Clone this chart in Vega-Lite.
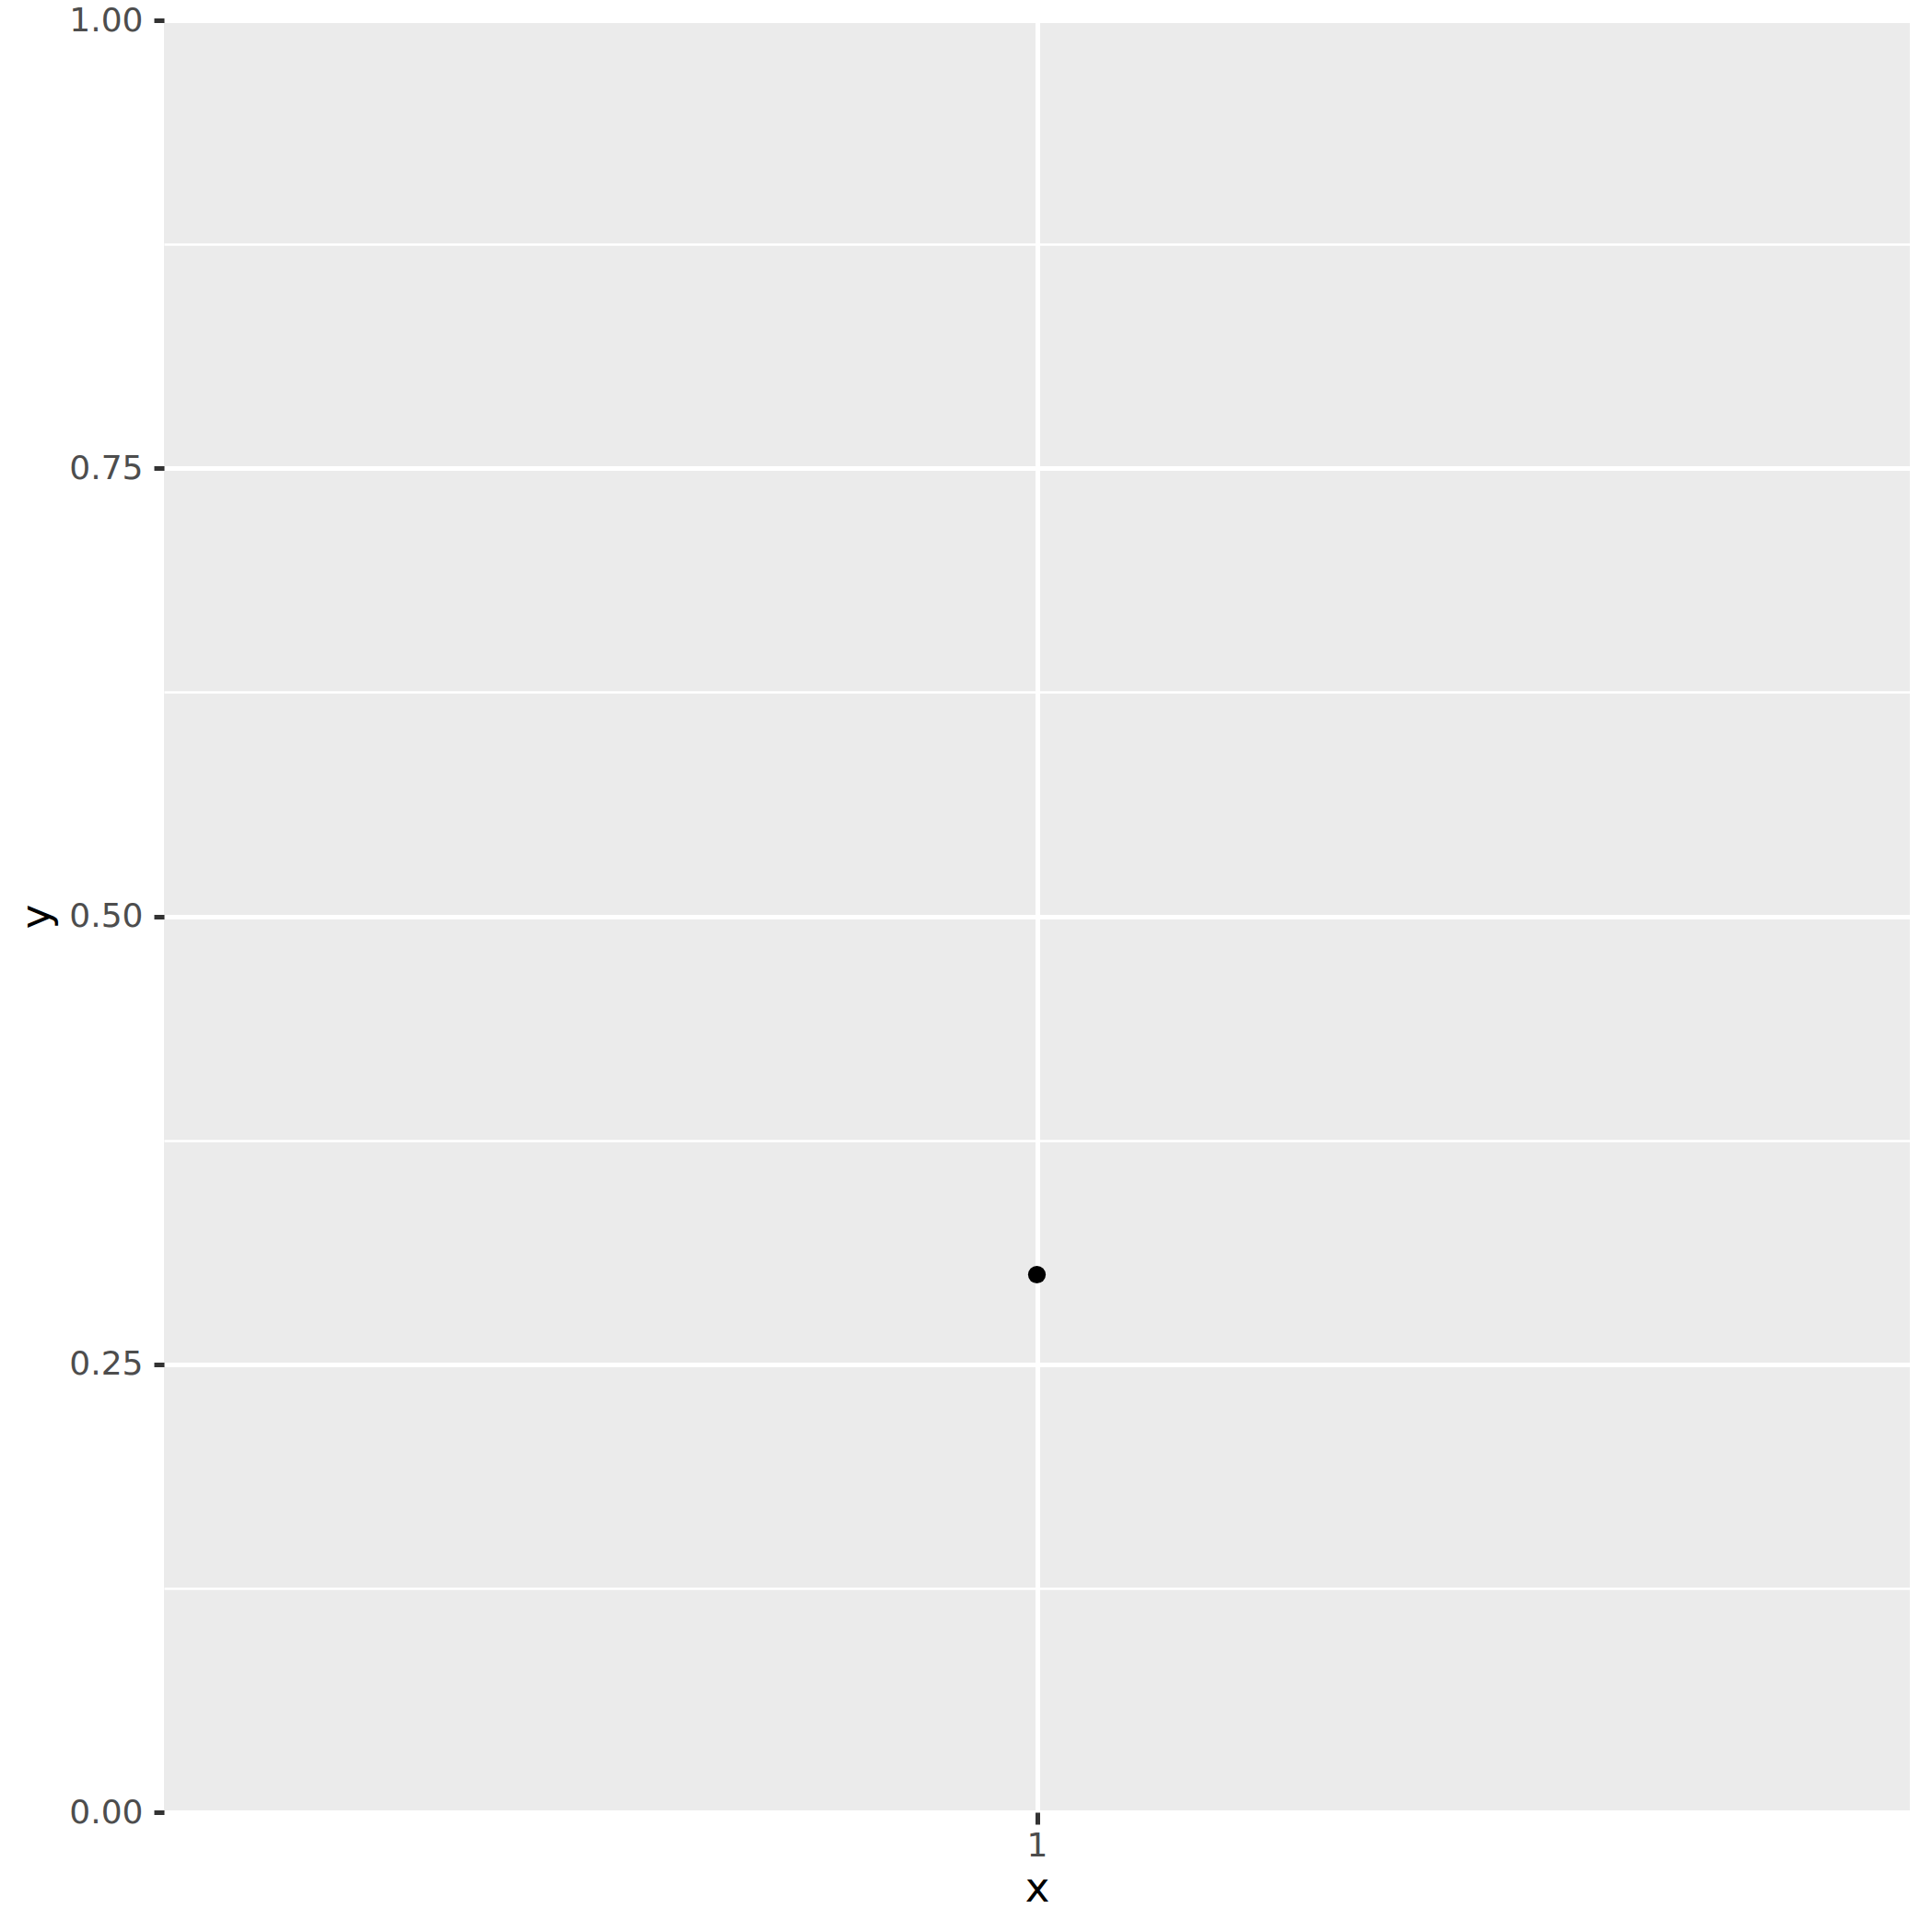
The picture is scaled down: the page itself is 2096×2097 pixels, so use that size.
{
  "$schema": "https://vega.github.io/schema/vega-lite/v6.json",
  "width": 1895,
  "height": 1945,
  "autosize": {"type": "none"},
  "padding": {"left": 178, "top": 22, "right": 23, "bottom": 130},
  "background": "white",
  "config": {
    "font": "DejaVu Sans",
    "view": {"fill": "#EBEBEB", "stroke": null},
    "axis": {
      "domain": false,
      "gridColor": "white",
      "tickColor": "#333333",
      "tickWidth": 5,
      "labelColor": "#4D4D4D",
      "labelFont": "DejaVu Sans",
      "labelFontSize": 36,
      "titleFont": "DejaVu Sans",
      "titleFontSize": 45,
      "titleFontWeight": "normal",
      "titleColor": "black"
    }
  },
  "data": {"values": [{"x": "1", "y": 0.3}]},
  "mark": {"type": "point", "filled": true, "color": "black", "size": 370, "opacity": 1},
  "encoding": {
    "x": {
      "field": "x",
      "type": "nominal",
      "scale": {"type": "point", "padding": 0.5},
      "axis": {
        "title": "x",
        "grid": true,
        "gridWidth": 5,
        "labelAngle": 0,
        "tickSize": 13,
        "labelPadding": 6,
        "titlePadding": 6
      }
    },
    "y": {
      "field": "y",
      "type": "quantitative",
      "scale": {"domain": [0, 1], "nice": false, "zero": false},
      "axis": {
        "title": "y",
        "values": [0, 0.125, 0.25, 0.375, 0.5, 0.625, 0.75, 0.875, 1],
        "format": ".2f",
        "labelExpr": "datum.value % 0.25 === 0 ? datum.label : ''",
        "tickSize": 11,
        "labelPadding": 12,
        "titlePadding": 12,
        "tickOpacity": {"condition": {"test": "datum.value % 0.25 === 0", "value": 1}, "value": 0},
        "gridWidth": {"condition": {"test": "datum.value % 0.25 === 0", "value": 5}, "value": 2.5}
      }
    }
  }
}
